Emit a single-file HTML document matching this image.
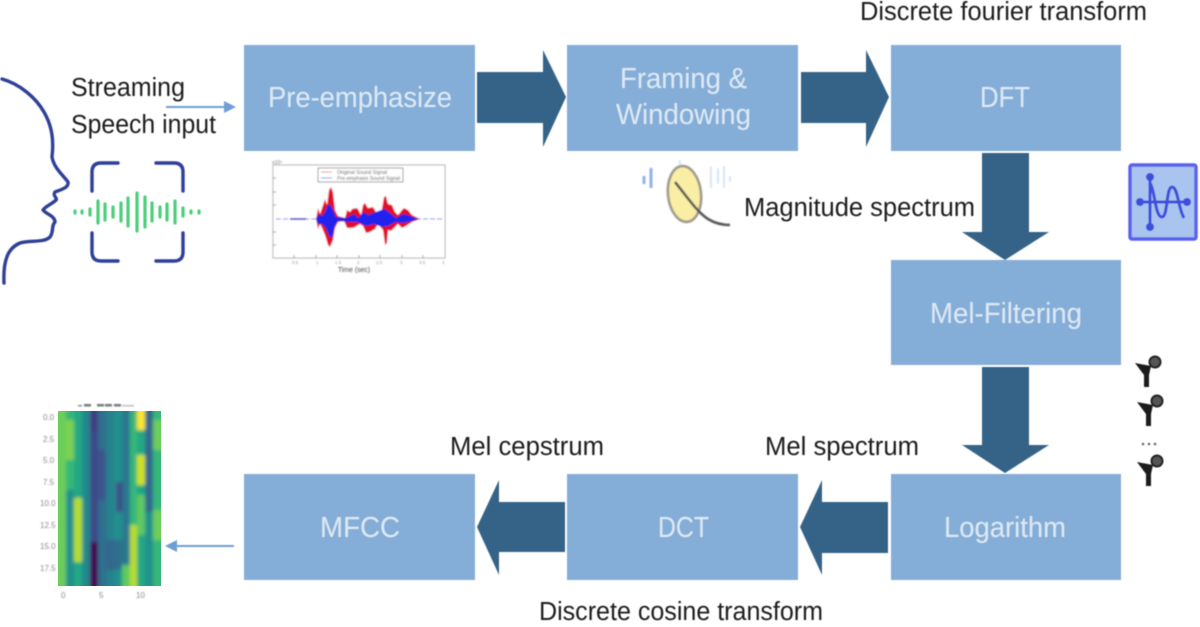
<!DOCTYPE html>
<html>
<head>
<meta charset="utf-8">
<style>
html,body{margin:0;padding:0;background:#fff;width:1200px;height:627px;overflow:hidden}
svg{display:block}
text{font-family:"Liberation Sans",sans-serif}
.b{fill:#1c1c1c;font-size:25.5px}
.w{fill:#dce9f5;font-size:29px}
</style>
</head>
<body>
<svg width="1200" height="627" viewBox="0 0 1200 627" xmlns="http://www.w3.org/2000/svg">
<defs>
<filter id="s" x="-5%" y="-5%" width="110%" height="110%"><feGaussianBlur stdDeviation="0.55"/></filter>
<filter id="m" x="-5%" y="-5%" width="110%" height="110%"><feGaussianBlur stdDeviation="0.8"/></filter>
<filter id="h" x="-5%" y="-5%" width="110%" height="110%"><feGaussianBlur stdDeviation="1.8"/></filter>
<clipPath id="hc"><rect x="58" y="411" width="103" height="175"/></clipPath>
<g id="fn">
<path d="M0 0 L16 3 L14 12 L14 24 L9 24 L9 12 Z" fill="#1c1c1c"/>
<circle cx="20" cy="-1" r="5.5" fill="#555" stroke="#222" stroke-width="2"/>
</g>
</defs>
<rect width="1200" height="627" fill="#fff"/>

<g filter="url(#s)">
<g fill="#84add7">
<rect x="244" y="45" width="231" height="106"/>
<rect x="567" y="45" width="231" height="106"/>
<rect x="891" y="45" width="230" height="106"/>
<rect x="891" y="260" width="230" height="105"/>
<rect x="891" y="474" width="230" height="106"/>
<rect x="567" y="474" width="231" height="106"/>
<rect x="244" y="474" width="231" height="106"/>
</g>
<g fill="#366488">
<polygon points="477,72 543,72 543,50 566,97 543,147 543,123 477,123"/>
<polygon points="801,72 866,72 866,50 889,97 866,147 866,123 801,123"/>
<polygon points="982,153 1029,153 1029,232 1049,232 1005,260 962,232 982,232"/>
<polygon points="982,367 1029,367 1029,445 1049,445 1005,473 962,445 982,445"/>
<polygon points="888,502 822,502 822,480 800,527 822,575 822,553 888,553"/>
<polygon points="565,502 499,502 499,480 477,527 499,575 499,552 565,552"/>
</g>

<text class="w" x="268" y="107" textLength="184" lengthAdjust="spacingAndGlyphs">Pre-emphasize</text>
<text class="w" x="620" y="88" textLength="127" lengthAdjust="spacingAndGlyphs">Framing &amp;</text>
<text class="w" x="616" y="124" textLength="135" lengthAdjust="spacingAndGlyphs">Windowing</text>
<text class="w" x="980" y="107" textLength="50" lengthAdjust="spacingAndGlyphs">DFT</text>
<text class="w" x="930" y="323" textLength="152" lengthAdjust="spacingAndGlyphs">Mel-Filtering</text>
<text class="w" x="944" y="537" textLength="122" lengthAdjust="spacingAndGlyphs">Logarithm</text>
<text class="w" x="658" y="537" textLength="51" lengthAdjust="spacingAndGlyphs">DCT</text>
<text class="w" x="320" y="537" textLength="80" lengthAdjust="spacingAndGlyphs">MFCC</text>

<text class="b" x="71" y="96" textLength="114" lengthAdjust="spacingAndGlyphs">Streaming</text>
<text class="b" x="71" y="133" textLength="145" lengthAdjust="spacingAndGlyphs">Speech input</text>
<text class="b" x="860" y="20" textLength="287" lengthAdjust="spacingAndGlyphs">Discrete fourier transform</text>
<text class="b" x="744" y="216" textLength="231" lengthAdjust="spacingAndGlyphs">Magnitude spectrum</text>
<text class="b" x="450" y="455" textLength="154" lengthAdjust="spacingAndGlyphs">Mel cepstrum</text>
<text class="b" x="765" y="455" textLength="154" lengthAdjust="spacingAndGlyphs">Mel spectrum</text>
<text class="b" x="539" y="620" textLength="284" lengthAdjust="spacingAndGlyphs">Discrete cosine transform</text>

<!-- thin arrows -->
<line x1="166" y1="107" x2="226" y2="107" stroke="#6d9fd6" stroke-width="2"/>
<polygon points="224,101 236,107 224,113" fill="#6d9fd6"/>
<line x1="234" y1="546" x2="175" y2="546" stroke="#6d9fd6" stroke-width="2"/>
<polygon points="177,540 165,546 177,552" fill="#6d9fd6"/>

<!-- face -->
<path d="M2 79 C20 84 36 98 44 112 C52 126 54 140 52 157 C54 168 62 174 68 182 C69 188 60 190 55 192 C52 196 58 198 56 200 C52 204 46 206 43 210 C46 214 55 216 55 222 C51 226 54 232 50 237 C44 243 30 240 20 243 C8 248 3 260 4 283" fill="none" stroke="#2f3f98" stroke-width="3.4" stroke-linecap="round" stroke-linejoin="round"/>
<!-- brackets -->
<g fill="none" stroke="#2f3f98" stroke-width="3.4" stroke-linecap="round">
<path d="M92 191 V172 Q92 163 101 163 H118"/>
<path d="M156 163 H174 Q183 163 183 172 V191"/>
<path d="M92 233 V252 Q92 261 101 261 H118"/>
<path d="M156 261 H174 Q183 261 183 252 V233"/>
</g>
<!-- waveform -->
<g stroke="#4ccf78" stroke-width="3.2" stroke-linecap="round">
<line x1="75" y1="211" x2="75" y2="213"/>
<line x1="82" y1="211" x2="82" y2="213"/>
<line x1="90" y1="209" x2="90" y2="215"/>
<line x1="98" y1="201" x2="98" y2="223"/>
<line x1="105" y1="204" x2="105" y2="220"/>
<line x1="113" y1="207" x2="113" y2="217"/>
<line x1="121" y1="203" x2="121" y2="221"/>
<line x1="128" y1="198" x2="128" y2="226"/>
<line x1="137" y1="193" x2="137" y2="231"/>
<line x1="145" y1="197" x2="145" y2="227"/>
<line x1="152" y1="203" x2="152" y2="221"/>
<line x1="160" y1="207" x2="160" y2="217"/>
<line x1="167" y1="204" x2="167" y2="220"/>
<line x1="175" y1="201" x2="175" y2="223"/>
<line x1="183" y1="208" x2="183" y2="216"/>
<line x1="191" y1="211" x2="191" y2="213"/>
<line x1="199" y1="211" x2="199" y2="213"/>
</g>
</g>

<!-- signal plot -->
<g filter="url(#m)">
<rect x="273" y="165" width="172" height="93" fill="#fff" stroke="#999" stroke-width="0.8"/>
<g stroke="#888" stroke-width="0.8">
<line x1="273" y1="178" x2="276" y2="178"/><line x1="273" y1="192" x2="276" y2="192"/><line x1="273" y1="205" x2="276" y2="205"/><line x1="273" y1="232" x2="276" y2="232"/><line x1="273" y1="245" x2="276" y2="245"/>
<line x1="294" y1="258" x2="294" y2="255"/><line x1="316" y1="258" x2="316" y2="255"/><line x1="337" y1="258" x2="337" y2="255"/><line x1="359" y1="258" x2="359" y2="255"/><line x1="380" y1="258" x2="380" y2="255"/><line x1="402" y1="258" x2="402" y2="255"/><line x1="423" y1="258" x2="423" y2="255"/>
</g>
<line x1="276" y1="219" x2="442" y2="219" stroke="#7777ee" stroke-width="0.9" stroke-dasharray="5 2"/>
<rect x="290" y="218" width="16" height="2" fill="#5555dd"/>
<path d="M316 219 L318 208 L320 214 L322 208 L325 199 L327 205 L329 190 L331 187 L333 192 L335 210 L338 216 L345 218 L347 210 L350 212 L352 209 L356 208 L358 209 L361 215 L363 205 L365 203 L368 208 L373 207 L376 212 L378 215 L381 214 L384 197 L386 196 L388 204 L392 205 L395 212 L398 215 L402 210 L404 208 L408 210 L412 215 L420 219 L412 222 L406 226 L402 228 L398 224 L394 228 L391 231 L388 230 L387 243 L385 245 L383 230 L378 224 L375 229 L370 232 L366 233 L363 226 L360 224 L355 227 L352 228 L347 228 L344 221 L338 222 L335 228 L333 240 L330 247 L328 245 L325 235 L322 228 L320 224 L318 229 Z" fill="#e3102c"/>
<path d="M316 219 L319 214 L322 216 L325 212 L328 204 L331 206 L334 212 L336 217 L345 218 L350 216 L354 214 L358 218 L364 212 L368 215 L376 212 L381 210 L385 209 L390 213 L396 218 L403 214 L408 215 L415 218 L420 219 L408 222 L402 223 L396 222 L388 226 L382 227 L374 224 L366 226 L358 222 L350 222 L338 221 L335 226 L332 238 L329 236 L326 228 L322 224 L318 224 Z" fill="#2222ee"/>
<rect x="318" y="168" width="85" height="14" fill="#fff" stroke="#666" stroke-width="0.7"/>
<line x1="321" y1="172" x2="332" y2="172" stroke="#e88" stroke-width="1"/>
<line x1="321" y1="178" x2="332" y2="178" stroke="#88e" stroke-width="1"/>
<text x="337" y="174" font-size="5" fill="#555" textLength="50" lengthAdjust="spacingAndGlyphs">Original Sound Signal</text>
<text x="337" y="180" font-size="5" fill="#555" textLength="63" lengthAdjust="spacingAndGlyphs">Pre-emphasis Sound Signal</text>
<text x="338" y="272" font-size="7" fill="#444" textLength="32" lengthAdjust="spacingAndGlyphs">Time (sec)</text>
<text x="272" y="164" font-size="5" fill="#777">x10⁴</text>
<g fill="#999" font-size="4.5">
<text x="292" y="264">0.5</text><text x="316" y="264">1</text><text x="335" y="264">1.5</text><text x="357" y="264">2</text><text x="376" y="264">2.5</text><text x="400" y="264">3</text><text x="419" y="264">3.5</text><text x="442" y="264">4</text>
</g>
</g>

<!-- clock-like icon -->
<g filter="url(#m)">
<g stroke="#8fb0e8" stroke-width="3" fill="none">
<line x1="644" y1="176" x2="644" y2="184"/>
<line x1="651" y1="168" x2="651" y2="188"/>
</g>
<g stroke="#cfe0f3" stroke-width="1.6" fill="none">
<line x1="680" y1="160" x2="680" y2="170"/>
<line x1="711" y1="166" x2="711" y2="188"/>
<line x1="718" y1="168" x2="718" y2="184"/>
<line x1="724" y1="166" x2="724" y2="188"/>
<line x1="730" y1="176" x2="730" y2="182"/>
</g>
<ellipse cx="684.5" cy="194" rx="16.5" ry="28" transform="rotate(-6 684.5 194)" fill="#f9eea3" stroke="#9c9a8a" stroke-width="2.6"/>
<path d="M675 182 C688 198 697 212 708 219 C716 224 724 225 730 225" fill="none" stroke="#555" stroke-width="2.6"/>
</g>

<!-- right icon -->
<g filter="url(#s)">
<rect x="1130" y="165" width="66" height="74" fill="#a9c4ee" stroke="#5a60ee" stroke-width="3.4" rx="2"/>
<g fill="none" stroke="#3d50dd" stroke-width="3">
<line x1="1150" y1="178" x2="1150" y2="227"/>
<line x1="1140" y1="202" x2="1187" y2="202"/>
<path d="M1150 183 C1155 190 1155 217 1162 217 C1168 217 1166 187 1172 187 C1178 187 1178 208 1184 218"/>
</g>
<g fill="#3d50dd">
<circle cx="1150" cy="177" r="4"/><circle cx="1150" cy="227" r="4"/>
<circle cx="1140" cy="202" r="4"/><circle cx="1187" cy="202" r="4"/>
</g>
</g>

<!-- filters -->
<g filter="url(#s)">
<use href="#fn" x="1135" y="363"/>
<use href="#fn" x="1137" y="402"/>
<use href="#fn" x="1137" y="462"/>
<g fill="#666"><circle cx="1143" cy="444" r="1.3"/><circle cx="1149" cy="444" r="1.3"/><circle cx="1155" cy="444" r="1.3"/></g>
</g>

<!-- heatmap -->
<g clip-path="url(#hc)">
<g filter="url(#h)">
<rect x="50" y="404" width="120" height="190" fill="#21908c"/>
<rect x="50" y="404" width="16" height="190" fill="#6ccd5a"/>
<rect x="66" y="404" width="8" height="190" fill="#35b779"/>
<rect x="66" y="420" width="8" height="40" fill="#7ad151"/>
<rect x="66" y="490" width="8" height="104" fill="#21908c"/>
<rect x="74" y="404" width="8" height="190" fill="#22a884"/>
<rect x="74" y="498" width="8" height="64" fill="#b5de2b"/>
<rect x="82" y="404" width="8" height="190" fill="#23888e"/>
<rect x="90" y="404" width="8" height="190" fill="#3e4a89"/>
<rect x="90" y="404" width="8" height="28" fill="#433e85"/>
<rect x="90" y="542" width="8" height="52" fill="#440154"/>
<rect x="98" y="404" width="8" height="190" fill="#2d708e"/>
<rect x="98" y="450" width="8" height="50" fill="#3a548c"/>
<rect x="106" y="404" width="8" height="190" fill="#26828e"/>
<rect x="114" y="404" width="8" height="190" fill="#21908c"/>
<rect x="106" y="540" width="8" height="30" fill="#31688e"/>
<rect x="114" y="540" width="8" height="30" fill="#2d708e"/>
<rect x="122" y="404" width="8" height="190" fill="#2a788e"/>
<rect x="116" y="482" width="7" height="30" fill="#3b528b"/>
<rect x="122" y="565" width="8" height="29" fill="#5ec962"/>
<rect x="130" y="404" width="8" height="190" fill="#35b779"/>
<rect x="130" y="525" width="7" height="69" fill="#b5de2b"/>
<rect x="137" y="404" width="8" height="190" fill="#22a884"/>
<rect x="137" y="404" width="8" height="26" fill="#fde725"/>
<rect x="137" y="455" width="8" height="30" fill="#d0e11c"/>
<rect x="137" y="495" width="8" height="40" fill="#5ec962"/>
<rect x="145" y="404" width="8" height="108" fill="#31688e"/>
<rect x="145" y="512" width="8" height="82" fill="#21918c"/>
<rect x="153" y="404" width="17" height="190" fill="#35b779"/>
<rect x="153" y="420" width="17" height="30" fill="#6ccd5a"/>
<rect x="153" y="510" width="17" height="30" fill="#6ccd5a"/>
</g>
</g>
<g filter="url(#m)">
<rect x="78" y="405" width="4" height="1.5" fill="#888"/><rect x="84" y="404" width="7" height="2.5" fill="#777"/><rect x="97" y="404" width="7" height="2.5" fill="#777"/><rect x="105" y="404" width="7" height="2.5" fill="#777"/><rect x="114" y="404" width="7" height="2.5" fill="#777"/><rect x="122" y="405" width="12" height="1.5" fill="#bbb"/>
<g fill="#888" font-size="8">
<text x="43" y="420">0.0</text><text x="43" y="442">2.5</text><text x="43" y="463">5.0</text><text x="43" y="485">7.5</text>
<text x="40" y="506">10.0</text><text x="40" y="528">12.5</text><text x="40" y="549">15.0</text><text x="40" y="571">17.5</text>
<text x="61" y="598">0</text><text x="99" y="598">5</text><text x="136" y="598">10</text>
</g>
</g>
</svg>
</body>
</html>
